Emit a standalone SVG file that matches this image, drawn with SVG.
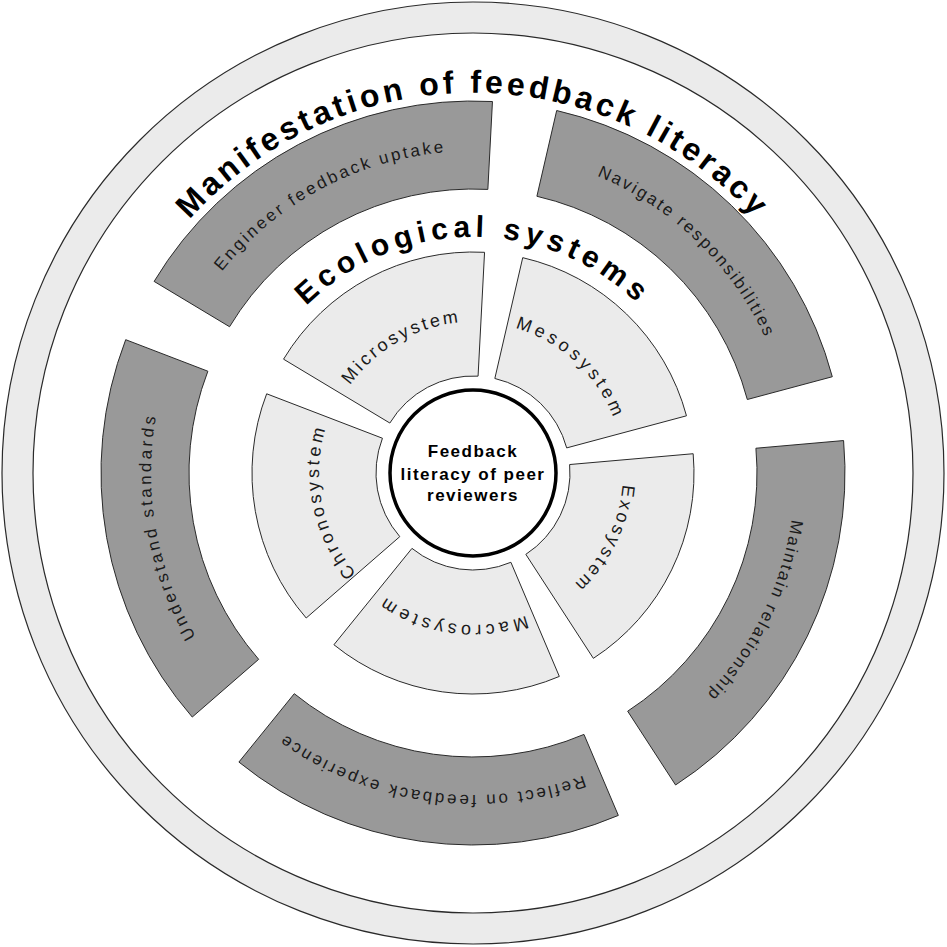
<svg xmlns="http://www.w3.org/2000/svg" width="947" height="947" viewBox="0 0 947 947">
<style>
.ring{fill:#ebebeb;stroke:#2a2a2a;stroke-width:1.2}
.dark{fill:#999999;stroke:#2a2a2a;stroke-width:1}
.light{fill:#ebebeb;stroke:#2a2a2a;stroke-width:1}
.lbl{font-family:"Liberation Sans",Arial,sans-serif;font-size:17px;fill:#1a1a1a}
.ilbl{font-family:"Liberation Sans",Arial,sans-serif;font-size:18px;fill:#1a1a1a}
.title{font-family:"Liberation Sans",Arial,sans-serif;font-weight:bold;fill:#000}
.ctr{font-family:"Liberation Sans",Arial,sans-serif;font-weight:bold;font-size:17px;fill:#000;letter-spacing:1.5px}
</style>
<defs>
<path id="tp-title" d="M 98.8 539 A 380 380 0 1 1 847.2 539" fill="none"/>
<path id="tp-eco" d="M 240.6 514 A 236 236 0 1 1 705.4 514" fill="none"/>
<path id="tp-A" d="M 196.98 307.17 A 322 322 0 0 1 489.85 151.44" fill="none"/>
<path id="tp-B" d="M 545.45 159.24 A 322 322 0 0 1 784.02 389.67" fill="none"/>
<path id="tp-C" d="M 793.78 444.92 A 322 322 0 0 1 648.36 743.06" fill="none"/>
<path id="tp-D" d="M 598.81 769.4 A 322 322 0 0 1 270.37 723.23" fill="none"/>
<path id="tp-E" d="M 229.99 684.26 A 322 322 0 0 1 172.38 357.6" fill="none"/>
<path id="tp-micro" d="M 342.9 396.37 A 151 151 0 0 1 474.32 322.01" fill="none"/>
<path id="tp-meso" d="M 506.97 325.87 A 151 151 0 0 1 617.4 428.85" fill="none"/>
<path id="tp-exo" d="M 622.72 463.85 A 150 150 0 0 1 555.79 598.09" fill="none"/>
<path id="tp-macro" d="M 529.94 613.93 A 152 152 0 0 1 379.41 592.78" fill="none"/>
<path id="tp-chrono" d="M 357.65 575.04 A 154 154 0 0 1 326.96 424.14" fill="none"/>
</defs>

<g id="outer-ring">
<circle class="ring" cx="473" cy="473" r="471"/>
<circle cx="473" cy="473" r="440" fill="#ffffff" stroke="#2a2a2a" stroke-width="1.2"/>
</g>

<g id="title-manifestation">
<text class="title" font-size="32" letter-spacing="3.7"><textPath href="#tp-title" startOffset="50%" text-anchor="middle">Manifestation of feedback literacy</textPath></text>
</g>

<g id="engineer-feedback-uptake">
<path class="dark" d="M 154.12 281.42 A 372 372 0 0 1 492.46 101.52 L 487.85 189.4 A 284 284 0 0 0 229.56 326.74 Z"/>
<text class="lbl" letter-spacing="2.65"><textPath href="#tp-A" startOffset="50%" text-anchor="middle">Engineer feedback uptake</textPath></text>
</g>
<g id="navigate-responsibilities">
<path class="dark" d="M 556.7 110.52 A 372 372 0 0 1 832.31 376.73 L 747.32 399.5 A 284 284 0 0 0 536.9 196.27 Z"/>
<text class="lbl" letter-spacing="2.27"><textPath href="#tp-B" startOffset="50%" text-anchor="middle">Navigate responsibilities</textPath></text>
</g>
<g id="maintain-relationship">
<path class="dark" d="M 843.59 440.56 A 372 372 0 0 1 675.59 784.99 L 627.67 711.19 A 284 284 0 0 0 755.92 448.24 Z"/>
<text class="lbl" letter-spacing="2.04"><textPath href="#tp-C" startOffset="50%" text-anchor="middle">Maintain relationship</textPath></text>
</g>
<g id="reflect-on-feedback-experience">
<path class="dark" d="M 618.34 815.43 A 372 372 0 0 1 238.9 762.08 L 294.28 693.7 A 284 284 0 0 0 583.96 734.42 Z"/>
<text class="lbl" letter-spacing="2.57"><textPath href="#tp-D" startOffset="50%" text-anchor="middle">Reflect on feedback experience</textPath></text>
</g>
<g id="understand-standards">
<path class="dark" d="M 192.25 717.07 A 372 372 0 0 1 125.7 339.68 L 207.86 371.21 A 284 284 0 0 0 258.67 659.33 Z"/>
<text class="lbl" letter-spacing="3.18"><textPath href="#tp-E" startOffset="50%" text-anchor="middle">Understand standards</textPath></text>
</g>

<g id="title-ecological">
<text class="title" font-size="30" letter-spacing="5.1"><textPath href="#tp-eco" startOffset="50%" text-anchor="middle">Ecological systems</textPath></text>
</g>

<g id="microsystem">
<path class="light" d="M 283.56 359.18 A 221 221 0 0 1 484.56 252.31 L 478.07 376.14 A 97 97 0 0 0 389.85 423.04 Z"/>
<text class="ilbl" letter-spacing="2.8"><textPath href="#tp-micro" startOffset="50%" text-anchor="middle">Microsystem</textPath></text>
</g>
<g id="mesosystem">
<path class="light" d="M 522.73 257.66 A 221 221 0 0 1 686.47 415.8 L 566.69 447.9 A 97 97 0 0 0 494.83 378.48 Z"/>
<text class="ilbl" letter-spacing="4"><textPath href="#tp-meso" startOffset="50%" text-anchor="middle">Mesosystem</textPath></text>
</g>
<g id="exosystem">
<path class="light" d="M 693.16 453.73 A 221 221 0 0 1 593.36 658.35 L 525.83 554.35 A 97 97 0 0 0 569.63 464.54 Z"/>
<text class="ilbl" letter-spacing="3.07"><textPath href="#tp-exo" startOffset="50%" text-anchor="middle">Exosystem</textPath></text>
</g>
<g id="macrosystem">
<path class="light" d="M 559.34 676.43 A 221 221 0 0 1 333.92 644.74 L 411.96 548.38 A 97 97 0 0 0 510.9 562.29 Z"/>
<text class="ilbl" letter-spacing="4"><textPath href="#tp-macro" startOffset="50%" text-anchor="middle">Macrosystem</textPath></text>
</g>
<g id="chronosystem">
<path class="light" d="M 306.21 618 A 221 221 0 0 1 266.67 393.79 L 382.44 438.24 A 97 97 0 0 0 399.79 536.64 Z"/>
<text class="ilbl" letter-spacing="3.4"><textPath href="#tp-chrono" startOffset="50%" text-anchor="middle">Chronosystem</textPath></text>
</g>

<g id="center">
<circle cx="473" cy="473" r="83" fill="#ffffff" stroke="#000000" stroke-width="3.5"/>
<text class="ctr" x="473" y="457" text-anchor="middle">Feedback</text>
<text class="ctr" x="473" y="479.5" text-anchor="middle">literacy of peer</text>
<text class="ctr" x="473" y="501" text-anchor="middle">reviewers</text>
</g>
</svg>
